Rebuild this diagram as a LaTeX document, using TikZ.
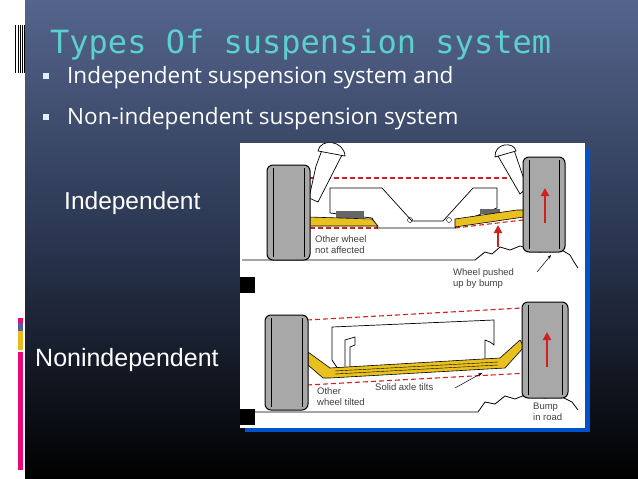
\documentclass[tikz,border=0pt]{standalone}
\usepackage{fontspec}
\setmainfont{Liberation Sans}
\newfontfamily\monof{DejaVu Sans Mono}
\newfontfamily\opensf{Open Sans}
\usetikzlibrary{arrows.meta}
\definecolor{ttl}{HTML}{5CCFCF}
\definecolor{yel}{HTML}{E8C020}
\definecolor{tire}{HTML}{A8A8A8}
\definecolor{rd}{HTML}{D02020}
\begin{document}
\begin{tikzpicture}[x=1pt,y=-1pt,
  lbl/.style={font=\fontsize{9.5}{11}\selectfont, align=left, anchor=north west, inner sep=0pt, text=black!75},
  reddash/.style={rd, line width=1.1pt, dash pattern=on 5pt off 3pt},
  tyre/.style={fill=tire, draw=black, line width=1pt, rounded corners=6pt},
  arm/.style={fill=yel, draw=black, line width=0.6pt},
  redarr/.style={rd, line width=2pt, -{Triangle[length=8pt,width=8pt]}},
  ptr/.style={black, line width=0.5pt, -{Stealth[length=4pt]}}]
\useasboundingbox (0,0) rectangle (638,479);
\fill[white] (0,0) rectangle (638,479);
\shade[top color={rgb,255:red,84;green,100;blue,140}, bottom color=black, middle color={rgb,255:red,42;green,54;blue,80}] (25,0) rectangle (638,479);
% barcode
\foreach \x/\w in {15/1.2,17.5/0.8,19.5/1.5,22/1,23.8/0.8}{\fill[black] (\x,25) rectangle ++(\w,48);}
% colour bars
\fill[magenta!80!red] (18,318) rectangle (23,323);
\fill[gray!70!blue] (18,323) rectangle (23,331);
\fill[yel!90!orange] (18,331) rectangle (23,350);
\fill[magenta!80!red] (18,352) rectangle (23,470);
% title and bullets
\node[font=\monof\fontsize{32}{34}\selectfont, text=ttl, anchor=west, inner sep=0] (title) at (50,45) {Types Of suspension system};
\fill[white!85!cyan] (43,73) rectangle (49,79);
\fill[white!85!cyan] (43,114) rectangle (49,120);
\node[font=\opensf\fontsize{22.5}{24}\selectfont, text=white, anchor=west, inner sep=0] (b1) at (67,78) {Independent suspension system and};
\node[font=\opensf\fontsize{22.5}{24}\selectfont, text=white, anchor=west, inner sep=0] (b2) at (67,119) {Non-independent suspension system};
\node[font=\fontsize{24.5}{26}\selectfont, text=white, anchor=west, inner sep=0] (ind) at (64,203) {Independent};
\node[font=\fontsize{25}{27}\selectfont, text=white, anchor=west, inner sep=0] (nind) at (35,360) {Nonindependent};
% picture frame
\fill[blue!60!cyan!80!black] (245,148) rectangle (590,432);
\fill[white] (240,143) rectangle (585,428);
\fill[black] (240,277) rectangle (255,293);
\fill[black] (240,409) rectangle (255,425);
% ===== top diagram =====
\draw[line width=0.8pt] (242,260) -- (475,260) -- (485,252) -- (492,254) -- (500,247) -- (510,250) -- (520,246) -- (540,252) -- (560,249) -- (570,255) -- (574,262) -- (578,268);
\draw[reddash] (310,178) -- (523,178);
\draw[reddash] (310,228) -- (378,228);
\draw[reddash] (455,228) -- (523,220);
% body
\draw[fill=white, line width=0.7pt] (330,188) -- (382,188) -- (412,221) -- (443,221) -- (473,188) -- (497,188) -- (497,208) -- (460,222) -- (455,228) -- (378,228) -- (372,218) -- (330,213) -- cycle;
\draw (410,220) circle (2.5);
\draw (449,220) circle (2.5);
% springs
\fill[black!60] (336,211) rectangle (364,218);
\fill[black!60] (480,209) rectangle (500,214);
% arms
\draw[arm] (308,217) -- (372,219) -- (378,226) -- (308,226) -- cycle;
\draw[arm] (455,219) -- (517,210) -- (524,210) -- (524,217) -- (455,227) -- cycle;
% struts
\draw[fill=white, line width=0.7pt] (316,166) -- (322,150) -- (342,155) -- (318,202) -- (309,198) -- cycle;
\draw[fill=white, line width=0.7pt] (318,151) .. controls (320,138) and (344,140) .. (345,156) -- cycle;
\draw[fill=white, line width=0.7pt] (498,156) -- (514,150) -- (527,188) -- (520,194) -- cycle;
\draw[fill=white, line width=0.7pt] (495,157) .. controls (494,143) and (514,141) .. (516,151) -- cycle;
% wheels
\draw[tyre] (267,165) rectangle (310,260);
\draw (273,168) -- (273,257) (304,168) -- (304,257);
\draw[tyre] (523,157) rectangle (565,252);
\draw (529,160) -- (529,249) (559,160) -- (559,249);
\draw[redarr] (545,223) -- (545,188);
\draw[redarr] (498,247) -- (498,225);
\node[lbl] (l1) at (315,235) {Other wheel\\not affected};
\node[lbl] (l2) at (453,268) {Wheel pushed\\up by bump};
\coordinate (p1a) at (537,272); \coordinate (p1b) at (551,255);
\draw[ptr] (p1a) -- (p1b);
% ===== bottom diagram =====
\draw[line width=0.8pt] (242,412) -- (478,412) -- (485,402) -- (495,404) -- (505,396) -- (515,399) -- (525,395) -- (545,398) -- (560,396) -- (572,402) -- (578,410);
\draw[reddash] (307,320) -- (522,308);
\draw[reddash] (307,385) -- (528,373);
% body
\draw[fill=white, line width=0.7pt] (332,327) -- (494,320) -- (494,345) -- (490,342) -- (485,340) -- (485,367) -- (350,372) -- (350,347) -- (355,345) -- (355,337) -- (345,340) -- (345,370) -- (340,372) -- (332,360) -- cycle;
% axle
\draw[arm] (308,352) -- (330,368) -- (500,358) -- (520,340) -- (524,347) -- (505,368) -- (330,378) -- (323,378) -- (308,365) -- cycle;
\draw[line width=0.4pt] (335,371) -- (498,362) (335,374) -- (498,365);
% wheels
\draw[tyre] (265,315) rectangle (308,410);
\draw (271,318) -- (271,407) (302,318) -- (302,407);
\draw[tyre] (522,302) rectangle (568,398);
\draw (528,305) -- (528,395) (562,305) -- (562,395);
\draw[redarr] (547,367) -- (547,332);
\node[lbl] (l3) at (317,387) {Other\\wheel tilted};
\node[lbl] (l4) at (375,383) {Solid axle tilts};
\node[lbl] (l5) at (533,403) {Bump\\in road};
\coordinate (p2a) at (455,388); \coordinate (p2b) at (482,373);
\draw[ptr] (p2a) -- (p2b);
\end{tikzpicture}
\end{document}
